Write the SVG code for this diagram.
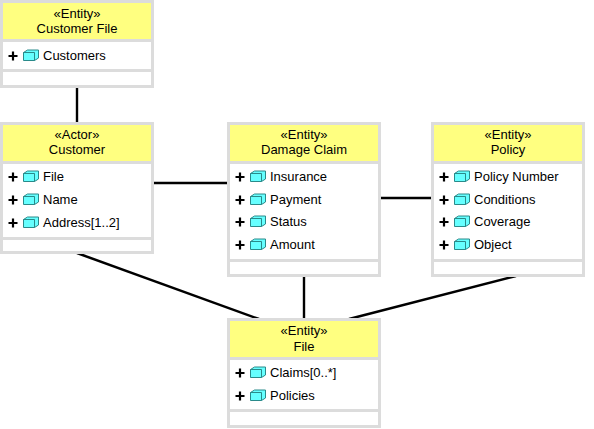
<svg xmlns="http://www.w3.org/2000/svg" width="594" height="429" viewBox="0 0 594 429">
<style>
.box{fill:#fff;stroke:#dcdcdc;stroke-width:3}
.head{fill:#ffff80;stroke:#dcdcdc;stroke-width:3}
.sep{fill:none;stroke:#dcdcdc;stroke-width:3}
text{font-family:"Liberation Sans",Arial,sans-serif;font-size:13px;fill:#000}
.c{text-anchor:middle}
.plus{stroke:#000;stroke-width:2.2;fill:none}
.f{fill:#66ffff;stroke:#2a8a8a;stroke-width:1}
.l{stroke:#000;stroke-width:2.4;fill:none}
</style>
<defs>
<g id="attr">
<path class="plus" d="M8.500 0h9M13-4.500v9"/>
<path class="f" d="M23.500-3.500h11v8h-11z"/>
<path class="f" d="M23.500-3.500l4-2.500h11v8l-4 2.500v-8z"/>
</g>
</defs>
<g id="connectors">
<path class="l" d="M77 86V122"/>
<path class="l" d="M153 183H228"/>
<path class="l" d="M379 198H432"/>
<path class="l" d="M77 253L259 319"/>
<path class="l" d="M304 276V319"/>
<path class="l" d="M516 276L349 319"/>
</g>
<g id="customer-file">
<rect class="box" x="1.500" y="1.500" width="151" height="85"/>
<rect class="head" x="1.500" y="1.500" width="151" height="39"/>
<path class="sep" d="M1.500 70.500H152.500"/>
<text class="c" x="77" y="18">«Entity»</text>
<text class="c" x="77" y="33">Customer File</text>
<use href="#attr" y="56"/><text x="43" y="60">Customers</text>
</g>
<g id="customer">
<rect class="box" x="1.500" y="123.500" width="151" height="129"/>
<rect class="head" x="1.500" y="123.500" width="151" height="39"/>
<path class="sep" d="M1.500 238.500H152.500"/>
<text class="c" x="77" y="139">«Actor»</text>
<text class="c" x="77" y="154">Customer</text>
<use href="#attr" y="177"/><text x="43" y="181">File</text>
<use href="#attr" y="200"/><text x="43" y="204">Name</text>
<use href="#attr" y="223"/><text x="43" y="227">Address[1..2]</text>
</g>
<g id="damage-claim">
<rect class="box" x="228.500" y="123.500" width="151" height="152"/>
<rect class="head" x="228.500" y="123.500" width="151" height="39"/>
<path class="sep" d="M228.500 260.500H379.500"/>
<text class="c" x="304" y="139">«Entity»</text>
<text class="c" x="304" y="154">Damage Claim</text>
<use href="#attr" x="227" y="177"/><text x="270" y="181">Insurance</text>
<use href="#attr" x="227" y="200"/><text x="270" y="204">Payment</text>
<use href="#attr" x="227" y="222"/><text x="270" y="226">Status</text>
<use href="#attr" x="227" y="245"/><text x="270" y="249">Amount</text>
</g>
<g id="policy">
<rect class="box" x="432.500" y="123.500" width="151" height="152"/>
<rect class="head" x="432.500" y="123.500" width="151" height="39"/>
<path class="sep" d="M432.500 260.500H583.500"/>
<text class="c" x="508" y="139">«Entity»</text>
<text class="c" x="508" y="154">Policy</text>
<use href="#attr" x="431" y="177"/><text x="474" y="181">Policy Number</text>
<use href="#attr" x="431" y="200"/><text x="474" y="204">Conditions</text>
<use href="#attr" x="431" y="222"/><text x="474" y="226">Coverage</text>
<use href="#attr" x="431" y="245"/><text x="474" y="249">Object</text>
</g>
<g id="file">
<rect class="box" x="228.500" y="319.500" width="151" height="107"/>
<rect class="head" x="228.500" y="319.500" width="151" height="39"/>
<path class="sep" d="M228.500 410.500H379.500"/>
<text class="c" x="304" y="335">«Entity»</text>
<text class="c" x="304" y="351">File</text>
<use href="#attr" x="227" y="373"/><text x="270" y="377">Claims[0..*]</text>
<use href="#attr" x="227" y="396"/><text x="270" y="400">Policies</text>
</g>
</svg>
